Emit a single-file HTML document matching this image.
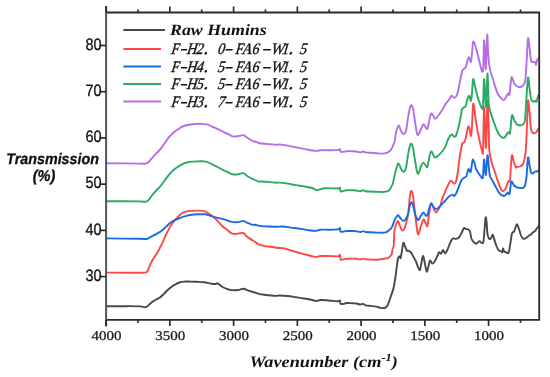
<!DOCTYPE html>
<html><head><meta charset="utf-8"><title>FTIR</title>
<style>
html,body{margin:0;padding:0;background:#fff;}
body{width:550px;height:377px;overflow:hidden;}
svg{display:block;text-rendering:geometricPrecision;}
.xl{font-family:"Liberation Serif",serif;font-size:14px;fill:#1a1a1a;stroke:#1a1a1a;stroke-width:0.3;text-anchor:middle;}
.yl{font-family:"Liberation Sans",sans-serif;font-size:16.5px;fill:#111;stroke:#111;stroke-width:0.3;text-anchor:end;}
.lgb{font-family:"Liberation Serif",serif;font-size:15.8px;font-weight:bold;font-style:italic;fill:#111;}
.lg{font-family:"Liberation Serif","Noto Serif CJK SC",serif;font-size:16px;fill:#111;stroke:#111;stroke-width:0.35;text-anchor:middle;white-space:pre;}
.dash{font-size:18px;stroke-width:0;}
.dot{font-size:19px;stroke-width:0.6;}
.xt{font-family:"Liberation Serif",serif;font-size:16px;font-weight:bold;font-style:italic;fill:#111;}
.yt{font-family:"Liberation Sans",sans-serif;font-size:15.3px;font-weight:bold;font-style:italic;fill:#111;stroke:#111;stroke-width:0.3;text-anchor:middle;}
</style></head>
<body>
<svg width="550" height="377" viewBox="0 0 550 377">
<rect width="550" height="377" fill="#fff"/>
<g>
<path fill="none" stroke="#484848" stroke-width="1.9" stroke-linejoin="round" stroke-linecap="round" d="M106,306.2C108.33,306.22 116.00,306.32 120,306.3C124.00,306.28 126.67,306.08 130,306.1C133.33,306.12 137.53,306.22 140,306.4C142.47,306.58 143.60,307.20 144.8,307.2C146.00,307.20 146.32,306.98 147.2,306.4C148.08,305.82 149.12,304.55 150.1,303.7C151.08,302.85 152.00,302.05 153.1,301.3C154.20,300.55 155.50,299.88 156.7,299.2C157.90,298.52 159.10,298.08 160.3,297.2C161.50,296.32 162.72,295.05 163.9,293.9C165.08,292.75 166.22,291.40 167.4,290.3C168.58,289.20 169.80,288.20 171,287.3C172.20,286.40 173.20,285.70 174.6,284.9C176.00,284.10 177.80,283.05 179.4,282.5C181.00,281.95 182.42,281.75 184.2,281.6C185.98,281.45 188.12,281.57 190.1,281.6C192.08,281.63 193.80,281.68 196.1,281.8C198.40,281.92 201.33,281.98 203.9,282.3C206.47,282.62 209.58,283.42 211.5,283.7C213.42,283.98 214.37,284.05 215.4,284C216.43,283.95 216.65,282.98 217.7,283.4C218.75,283.82 220.18,285.60 221.7,286.5C223.22,287.40 225.10,288.20 226.8,288.8C228.50,289.40 229.98,289.90 231.9,290.1C233.82,290.30 236.38,290.22 238.3,290C240.22,289.78 241.70,288.70 243.4,288.8C245.10,288.90 246.57,289.97 248.5,290.6C250.43,291.23 253.10,292.00 255,292.6C256.90,293.20 258.82,293.90 259.9,294.2C260.98,294.50 260.13,294.23 261.5,294.4C262.87,294.57 265.63,294.95 268.1,295.2C270.57,295.45 274.40,295.85 276.3,295.9C278.20,295.95 277.60,295.48 279.5,295.5C281.40,295.52 284.97,295.72 287.7,296C290.43,296.28 293.17,296.78 295.9,297.2C298.63,297.62 301.37,298.03 304.1,298.5C306.83,298.97 310.25,299.58 312.3,300C314.35,300.42 315.03,301.00 316.4,301C317.77,301.00 318.47,300.08 320.5,300C322.53,299.92 325.73,300.28 328.6,300.5C331.47,300.72 335.92,301.22 337.7,301.3C339.30,301.38 338.92,301.10 339.3,301C339.68,300.90 339.77,300.22 340,300.7C340.23,301.18 340.15,303.37 340.7,303.9C341.25,304.43 342.28,304.05 343.3,303.9C344.32,303.75 345.23,303.10 346.8,303C348.37,302.90 351.12,303.22 352.7,303.3C354.28,303.38 355.02,303.30 356.3,303.5C357.58,303.70 359.27,304.43 360.4,304.5C361.53,304.57 362.22,303.75 363.1,303.9C363.98,304.05 364.47,305.07 365.7,305.4C366.93,305.73 368.72,305.70 370.5,305.9C372.28,306.10 374.82,306.28 376.4,306.6C377.98,306.92 378.60,307.57 380,307.8C381.40,308.03 383.53,308.43 384.8,308C386.07,307.57 386.82,306.50 387.6,305.2C388.38,303.90 388.85,302.00 389.5,300.2C390.15,298.40 390.85,296.32 391.5,294.4C392.15,292.48 392.77,291.40 393.4,288.7C394.03,286.00 394.73,281.87 395.3,278.2C395.87,274.53 396.33,270.05 396.8,266.7C397.27,263.35 397.62,259.85 398.1,258.1C398.58,256.35 399.28,256.20 399.7,256.2C400.12,256.20 400.22,259.05 400.6,258.1C400.98,257.15 401.55,253.03 402,250.5C402.45,247.97 402.83,243.70 403.3,242.9C403.77,242.10 404.23,244.43 404.8,245.7C405.37,246.97 406.37,249.72 406.7,250.5C406.80,251.28 406.70,250.33 406.8,250.4C407.13,250.47 408.00,250.58 408.7,250.9C409.40,251.22 410.28,251.45 411,252.3C411.72,253.15 412.17,254.47 413,256C413.83,257.53 415.17,259.65 416,261.5C416.83,263.35 417.33,265.70 418,267.1C418.67,268.50 419.42,270.67 420,269.9C420.58,269.13 421.00,264.82 421.5,262.5C422.00,260.18 422.50,256.17 423,256C423.50,255.83 424.00,259.33 424.5,261.5C425.00,263.67 425.58,267.30 426,269C426.42,270.70 426.58,272.17 427,271.7C427.42,271.23 428.00,268.05 428.5,266.2C429.00,264.35 429.42,261.07 430,260.6C430.58,260.13 431.33,263.08 432,263.4C432.67,263.72 433.17,263.58 434,262.5C434.83,261.42 436.17,258.60 437,256.9C437.83,255.20 438.33,252.83 439,252.3C439.67,251.77 440.33,254.08 441,253.7C441.67,253.32 442.33,250.08 443,250C443.67,249.92 444.33,253.07 445,253.2C445.67,253.33 446.33,252.03 447,250.8C447.67,249.57 448.33,247.42 449,245.8C449.67,244.18 450.33,242.35 451,241.1C451.67,239.85 452.17,238.67 453,238.3C453.83,237.93 455.00,239.05 456,238.9C457.00,238.75 458.00,238.55 459,237.4C460.00,236.25 461.17,233.57 462,232C462.83,230.43 463.33,228.50 464,228C464.67,227.50 465.33,228.78 466,229C466.67,229.22 467.33,228.88 468,229.3C468.67,229.72 469.45,230.02 470,231.5C470.55,232.98 470.75,236.53 471.3,238.2C471.85,239.87 472.52,240.58 473.3,241.5C474.08,242.42 475.00,243.77 476,243.7C477.00,243.63 478.42,241.25 479.3,241.1C480.18,240.95 480.63,242.63 481.3,242.8C481.97,242.97 482.75,244.42 483.3,242.1C483.85,239.78 484.22,232.98 484.6,228.9C484.98,224.82 485.27,218.72 485.6,217.6C485.93,216.48 486.28,219.43 486.6,222.2C486.92,224.97 487.07,231.43 487.5,234.2C487.93,236.97 488.58,238.18 489.2,238.8C489.82,239.42 490.60,238.57 491.2,237.9C491.80,237.23 492.25,234.43 492.8,234.8C493.35,235.17 493.88,238.22 494.5,240.1C495.12,241.98 495.83,244.43 496.5,246.1C497.17,247.77 497.75,249.25 498.5,250.1C499.25,250.95 500.33,250.85 501,251.2C501.67,251.55 502.17,252.67 502.5,252.2C502.83,251.73 502.75,248.57 503,248.4C503.25,248.23 503.50,250.57 504,251.2C504.50,251.83 505.25,251.95 506,252.2C506.75,252.45 507.83,253.78 508.5,252.7C509.17,251.62 509.42,248.88 510,245.7C510.58,242.52 511.33,235.93 512,233.6C512.67,231.27 513.50,232.47 514,231.7C514.50,230.93 514.50,230.23 515,229C515.50,227.77 516.33,224.30 517,224.3C517.67,224.30 518.33,227.13 519,229C519.67,230.87 520.33,233.90 521,235.5C521.67,237.10 522.33,238.08 523,238.6C523.67,239.12 524.33,238.82 525,238.6C525.67,238.38 526.33,237.82 527,237.3C527.67,236.78 528.33,235.97 529,235.5C529.67,235.03 530.33,235.03 531,234.5C531.67,233.97 532.33,232.85 533,232.3C533.67,231.75 534.33,231.92 535,231.2C535.67,230.48 536.33,228.87 537,228C537.67,227.13 538.67,226.33 539,226"/>
<path fill="none" stroke="#ff4646" stroke-width="1.9" stroke-linejoin="round" stroke-linecap="round" d="M106,272.6C111.67,272.63 133.25,272.87 140,272.8C146.50,272.73 145.10,272.82 146.5,272.2C147.90,271.58 147.63,270.70 148.4,269.1C149.17,267.50 150.18,264.47 151.1,262.6C152.02,260.73 152.82,259.62 153.9,257.9C154.98,256.18 156.52,254.15 157.6,252.3C158.68,250.45 159.47,248.65 160.4,246.8C161.33,244.95 162.27,243.22 163.2,241.2C164.13,239.18 165.07,236.72 166,234.7C166.93,232.68 167.87,230.80 168.8,229.1C169.73,227.40 170.52,226.03 171.6,224.5C172.68,222.97 174.07,221.35 175.3,219.9C176.53,218.45 177.77,216.98 179,215.8C180.23,214.62 181.47,213.52 182.7,212.8C183.93,212.08 185.18,211.82 186.4,211.5C187.62,211.18 188.18,211.05 190,210.9C191.82,210.75 195.12,210.60 197.3,210.6C199.48,210.60 201.65,210.67 203.1,210.9C204.55,211.13 205.02,211.50 206,212C206.98,212.50 207.78,213.10 209,213.9C210.22,214.70 211.85,215.60 213.3,216.8C214.75,218.00 216.23,219.57 217.7,221.1C219.17,222.63 220.63,224.65 222.1,226C223.57,227.35 225.17,228.13 226.5,229.2C227.83,230.27 229.02,231.63 230.1,232.4C231.18,233.17 231.90,233.57 233,233.8C234.10,234.03 235.48,233.88 236.7,233.8C237.92,233.72 239.22,233.47 240.3,233.3C241.38,233.13 242.23,232.40 243.2,232.8C244.17,233.20 245.00,234.73 246.1,235.7C247.20,236.67 248.32,237.57 249.8,238.6C251.28,239.63 253.55,240.97 255,241.9C256.45,242.83 257.68,243.72 258.5,244.2C259.32,244.68 258.85,244.48 259.9,244.8C260.95,245.12 262.88,245.77 264.8,246.1C266.72,246.43 269.48,246.52 271.4,246.8C273.32,247.08 274.40,247.58 276.3,247.8C278.20,248.02 280.90,247.83 282.8,248.1C284.70,248.37 285.78,248.85 287.7,249.4C289.62,249.95 292.12,250.75 294.3,251.4C296.48,252.05 298.62,252.70 300.8,253.3C302.98,253.90 305.22,254.45 307.4,255C309.58,255.55 312.27,256.30 313.9,256.6C315.53,256.90 316.10,256.90 317.2,256.8C318.30,256.70 318.87,256.13 320.5,256C322.13,255.87 324.82,255.95 327,256C329.18,256.05 331.68,256.25 333.6,256.3C335.52,256.35 337.55,256.42 338.5,256.3C339.30,256.18 339.05,255.82 339.3,255.6C339.55,255.38 339.77,254.33 340,255C340.23,255.67 340.15,258.87 340.7,259.6C341.25,260.33 342.28,259.53 343.3,259.4C344.32,259.27 345.23,258.93 346.8,258.8C348.37,258.67 351.12,258.60 352.7,258.6C354.28,258.60 355.02,258.67 356.3,258.8C357.58,258.93 359.27,259.43 360.4,259.4C361.53,259.37 362.22,258.60 363.1,258.6C363.98,258.60 364.47,259.23 365.7,259.4C366.93,259.57 368.72,259.53 370.5,259.6C372.28,259.67 374.82,259.83 376.4,259.8C377.98,259.77 378.73,259.57 380,259.4C381.27,259.23 382.73,259.02 384,258.8C385.27,258.58 386.68,258.43 387.6,258.1C388.52,257.77 388.85,257.43 389.5,256.8C390.15,256.17 390.97,255.60 391.5,254.3C392.03,253.00 392.32,250.55 392.7,249C393.08,247.45 393.53,247.82 393.8,245C394.07,242.18 393.95,235.45 394.3,232.1C394.65,228.75 395.32,226.77 395.9,224.9C396.48,223.03 397.13,220.77 397.8,220.9C398.47,221.03 399.15,224.10 399.9,225.7C400.65,227.30 401.50,230.10 402.3,230.5C403.10,230.90 404.03,229.43 404.7,228.1C405.37,226.77 405.70,225.02 406.3,222.5C406.90,219.98 407.68,217.58 408.3,213C408.92,208.42 409.47,198.68 410,195C410.53,191.32 411.00,190.72 411.5,190.9C412.00,191.08 412.42,192.45 413,196.1C413.58,199.75 414.33,207.23 415,212.8C415.67,218.37 416.42,225.93 417,229.5C417.58,233.07 417.83,234.82 418.5,234.2C419.17,233.58 420.17,228.28 421,225.8C421.83,223.32 422.67,219.60 423.5,219.3C424.33,219.00 425.33,222.92 426,224C426.67,225.08 427.00,227.35 427.5,225.8C428.00,224.25 428.42,218.40 429,214.7C429.58,211.00 430.33,205.00 431,203.6C431.67,202.20 432.17,204.82 433,206.3C433.83,207.78 434.83,212.50 436,212.5C437.17,212.50 438.97,208.55 440,206.3C441.03,204.05 441.35,201.43 442.2,199C443.05,196.57 444.13,194.02 445.1,191.7C446.07,189.38 447.03,186.93 448,185.1C448.97,183.27 449.92,180.93 450.9,180.7C451.88,180.47 453.05,183.57 453.9,183.7C454.75,183.83 455.40,183.08 456,181.5C456.60,179.92 457.00,177.37 457.5,174.2C458.00,171.03 458.52,166.15 459,162.5C459.48,158.85 459.92,155.10 460.4,152.3C460.88,149.50 461.53,147.23 461.9,145.7C462.27,144.17 462.12,143.82 462.6,143.1C463.08,142.38 464.20,142.62 464.8,141.4C465.40,140.18 465.60,138.30 466.2,135.8C466.80,133.30 467.78,127.25 468.4,126.4C469.02,125.55 469.47,129.13 469.9,130.7C470.33,132.27 470.63,136.88 471,135.8C471.37,134.72 471.75,129.42 472.1,124.2C472.45,118.98 472.73,107.18 473.1,104.5C473.47,101.82 473.87,105.55 474.3,108.1C474.73,110.65 475.10,115.67 475.7,119.8C476.30,123.93 477.17,129.02 477.9,132.9C478.63,136.78 479.45,140.25 480.1,143.1C480.75,145.95 481.32,148.73 481.8,150C482.28,151.27 482.63,157.70 483,150.7C483.37,143.70 483.67,111.72 484,108C484.33,104.28 484.67,121.90 485,128.4C485.33,134.90 485.58,151.65 486,147C486.42,142.35 487.00,101.43 487.5,100.5C488.00,99.57 488.72,133.22 489,141.4C489.20,149.58 489.00,146.12 489.2,149.6C489.63,153.08 490.67,158.60 491.6,162.3C492.53,166.00 493.75,168.62 494.8,171.8C495.85,174.98 496.85,178.47 497.9,181.4C498.95,184.33 500.17,187.80 501.1,189.4C502.03,191.00 502.70,191.27 503.5,191C504.30,190.73 505.10,189.40 505.9,187.8C506.70,186.20 507.63,182.73 508.3,181.4C508.97,180.07 509.32,184.05 509.9,179.8C510.48,175.55 511.13,158.82 511.8,155.9C512.47,152.98 513.22,160.37 513.9,162.3C514.58,164.23 515.38,166.72 515.9,167.5C516.42,168.28 516.32,167.17 517,167C517.68,166.83 519.00,167.00 520,166.5C521.00,166.00 522.17,165.63 523,164C523.83,162.37 524.50,159.47 525,156.7C525.50,153.93 525.67,152.73 526,147.4C526.33,142.07 526.67,132.50 527,124.7C527.33,116.90 527.58,102.77 528,100.6C528.42,98.43 529.00,106.92 529.5,111.7C530.00,116.48 530.42,125.75 531,129.3C531.58,132.85 532.33,132.38 533,133C533.67,133.62 534.42,133.15 535,133C535.58,132.85 536.00,132.72 536.5,132.1C537.00,131.48 537.58,129.98 538,129.3C538.42,128.62 538.83,128.22 539,128"/>
<path fill="none" stroke="#1a6ae2" stroke-width="1.9" stroke-linejoin="round" stroke-linecap="round" d="M106,238.4C111.67,238.47 133.10,238.73 140,238.8C146.90,238.87 145.55,239.17 147.4,238.8C149.25,238.43 149.55,237.43 151.1,236.6C152.65,235.77 154.98,234.73 156.7,233.8C158.42,232.87 159.85,232.15 161.4,231C162.95,229.85 164.47,228.30 166,226.9C167.53,225.50 169.05,223.77 170.6,222.6C172.15,221.43 173.60,220.73 175.3,219.9C177.00,219.07 178.95,218.28 180.8,217.6C182.65,216.92 184.87,216.23 186.4,215.8C187.93,215.37 187.95,215.25 190,215C192.05,214.75 196.27,214.42 198.7,214.3C201.13,214.18 202.88,214.13 204.6,214.3C206.32,214.47 207.55,214.88 209,215.3C210.45,215.72 211.60,216.32 213.3,216.8C215.00,217.28 217.25,217.72 219.2,218.2C221.15,218.68 223.07,219.13 225,219.7C226.93,220.27 229.10,221.17 230.8,221.6C232.50,222.03 233.73,222.25 235.2,222.3C236.67,222.35 238.27,222.13 239.6,221.9C240.93,221.67 241.98,220.78 243.2,220.9C244.42,221.02 245.32,221.95 246.9,222.6C248.48,223.25 251.35,224.43 252.7,224.8C254.05,225.17 253.90,224.62 255,224.8C256.10,224.98 258.22,225.68 259.3,225.9C260.38,226.12 260.03,226.00 261.5,226.1C262.97,226.20 265.63,226.38 268.1,226.5C270.57,226.62 273.85,226.80 276.3,226.8C278.75,226.80 280.35,226.37 282.8,226.5C285.25,226.63 288.00,227.20 291,227.6C294.00,228.00 297.80,228.47 300.8,228.9C303.80,229.33 306.53,229.87 309,230.2C311.47,230.53 313.68,230.98 315.6,230.9C317.52,230.82 318.33,229.90 320.5,229.7C322.67,229.50 325.73,229.75 328.6,229.7C331.47,229.65 335.92,229.58 337.7,229.4C339.30,229.22 338.92,228.82 339.3,228.6C339.68,228.38 339.77,227.58 340,228.1C340.23,228.62 340.15,231.12 340.7,231.7C341.25,232.28 342.28,231.72 343.3,231.6C344.32,231.48 345.23,231.10 346.8,231C348.37,230.90 351.12,230.97 352.7,231C354.28,231.03 355.02,231.03 356.3,231.2C357.58,231.37 359.27,232.02 360.4,232C361.53,231.98 362.22,231.10 363.1,231.1C363.98,231.10 364.47,231.80 365.7,232C366.93,232.20 368.72,232.20 370.5,232.3C372.28,232.40 374.43,232.52 376.4,232.6C378.37,232.68 380.73,232.83 382.3,232.8C383.87,232.77 384.72,232.78 385.8,232.4C386.88,232.02 387.78,231.35 388.8,230.5C389.82,229.65 390.98,228.90 391.9,227.3C392.82,225.70 393.50,222.70 394.3,220.9C395.10,219.10 396.03,217.42 396.7,216.5C397.37,215.58 397.63,215.07 398.3,215.4C398.97,215.73 399.90,217.58 400.7,218.5C401.50,219.42 402.30,220.77 403.1,220.9C403.90,221.03 404.70,220.35 405.5,219.3C406.30,218.25 407.15,216.98 407.9,214.6C408.65,212.22 409.40,207.05 410,205C410.60,202.95 411.00,202.23 411.5,202.3C412.00,202.37 412.42,203.48 413,205.4C413.58,207.32 414.33,211.57 415,213.8C415.67,216.03 416.42,217.78 417,218.8C417.58,219.82 417.83,220.43 418.5,219.9C419.17,219.37 420.17,216.78 421,215.6C421.83,214.42 422.67,212.80 423.5,212.8C424.33,212.80 425.33,215.28 426,215.6C426.67,215.92 427.00,215.78 427.5,214.7C428.00,213.62 428.42,210.95 429,209.1C429.58,207.25 430.33,204.07 431,203.6C431.67,203.13 432.17,205.38 433,206.3C433.83,207.22 434.83,209.10 436,209.1C437.17,209.10 438.50,207.65 440,206.3C441.50,204.95 443.53,202.58 445,201C446.47,199.42 447.57,197.87 448.8,196.8C450.03,195.73 451.43,194.77 452.4,194.6C453.37,194.43 453.75,196.53 454.6,195.8C455.45,195.07 456.40,192.72 457.5,190.2C458.60,187.68 460.10,182.77 461.2,180.7C462.30,178.63 463.25,178.52 464.1,177.8C464.95,177.08 465.58,177.85 466.3,176.4C467.02,174.95 467.68,169.83 468.4,169.1C469.12,168.37 469.97,173.18 470.6,172C471.23,170.82 471.80,164.08 472.2,162C472.60,159.92 472.62,159.30 473,159.5C473.38,159.70 474.00,161.65 474.5,163.2C475.00,164.75 475.42,167.25 476,168.8C476.58,170.35 477.33,171.42 478,172.5C478.67,173.58 479.33,174.38 480,175.3C480.67,176.22 481.50,177.85 482,178C482.50,178.15 482.67,179.28 483,176.2C483.33,173.12 483.67,160.58 484,159.5C484.33,158.42 484.67,167.23 485,169.7C485.33,172.17 485.58,176.72 486,174.3C486.42,171.88 487.00,156.12 487.5,155.2C488.00,154.28 488.58,165.30 489,168.8C489.42,172.30 489.50,174.35 490,176.2C490.50,178.05 491.17,178.35 492,179.9C492.83,181.45 494.00,183.65 495,185.5C496.00,187.35 497.17,189.62 498,191C498.83,192.38 499.33,193.08 500,193.8C500.67,194.52 501.33,194.93 502,195.3C502.67,195.67 503.33,196.10 504,196C504.67,195.90 505.33,195.28 506,194.7C506.67,194.12 507.42,192.65 508,192.5C508.58,192.35 509.00,195.43 509.5,193.8C510.00,192.17 510.58,184.72 511,182.7C511.42,180.68 511.50,181.23 512,181.7C512.50,182.17 513.17,184.57 514,185.5C514.83,186.43 516.00,186.90 517,187.3C518.00,187.70 519.00,187.80 520,187.9C521.00,188.00 522.17,188.30 523,187.9C523.83,187.50 524.42,187.30 525,185.5C525.58,183.70 526.00,181.75 526.5,177.1C527.00,172.45 527.50,159.62 528,157.6C528.50,155.58 529.00,162.52 529.5,165C530.00,167.48 530.42,171.10 531,172.5C531.58,173.90 532.33,173.57 533,173.4C533.67,173.23 534.33,171.82 535,171.5C535.67,171.18 536.33,171.75 537,171.5C537.67,171.25 538.67,170.25 539,170"/>
<path fill="none" stroke="#2aaa62" stroke-width="1.9" stroke-linejoin="round" stroke-linecap="round" d="M106,201.2C111.67,201.23 133.45,201.32 140,201.4C145.30,201.48 143.87,201.92 145.3,201.7C146.73,201.48 147.50,201.13 148.6,200.1C149.70,199.07 150.68,197.05 151.9,195.5C153.12,193.95 154.57,192.25 155.9,190.8C157.23,189.35 158.57,188.35 159.9,186.8C161.23,185.25 162.57,183.27 163.9,181.5C165.23,179.73 166.58,177.85 167.9,176.2C169.22,174.55 170.48,172.92 171.8,171.6C173.12,170.28 174.47,169.30 175.8,168.3C177.13,167.30 178.25,166.48 179.8,165.6C181.35,164.72 183.12,163.67 185.1,163C187.08,162.33 189.22,161.88 191.7,161.6C194.18,161.32 198.12,161.35 200,161.3C201.88,161.25 201.85,161.20 203,161.3C204.15,161.40 205.37,161.40 206.9,161.9C208.43,162.40 210.43,163.45 212.2,164.3C213.97,165.15 215.72,166.07 217.5,167C219.28,167.93 221.12,169.02 222.9,169.9C224.68,170.78 226.43,171.53 228.2,172.3C229.97,173.07 231.73,174.20 233.5,174.5C235.27,174.80 237.15,174.32 238.8,174.1C240.45,173.88 241.87,172.80 243.4,173.2C244.93,173.60 246.33,175.47 248,176.5C249.67,177.53 252.23,178.85 253.4,179.4C254.57,179.95 254.12,179.43 255,179.8C255.88,180.17 257.62,181.32 258.7,181.6C259.78,181.88 259.93,181.45 261.5,181.5C263.07,181.55 265.63,181.68 268.1,181.9C270.57,182.12 274.40,182.68 276.3,182.8C278.20,182.92 277.60,182.47 279.5,182.6C281.40,182.73 284.97,183.18 287.7,183.6C290.43,184.02 293.17,184.63 295.9,185.1C298.63,185.57 301.37,185.92 304.1,186.4C306.83,186.88 310.25,187.40 312.3,188C314.35,188.60 315.03,189.78 316.4,190C317.77,190.22 319.13,189.58 320.5,189.3C321.87,189.02 321.73,188.43 324.6,188.3C327.47,188.17 335.25,188.53 337.7,188.5C339.30,188.47 338.92,188.23 339.3,188.1C339.68,187.97 339.77,187.17 340,187.7C340.23,188.23 340.15,190.75 340.7,191.3C341.25,191.85 342.28,191.18 343.3,191C344.32,190.82 345.23,190.33 346.8,190.2C348.37,190.07 351.12,190.15 352.7,190.2C354.28,190.25 355.02,190.33 356.3,190.5C357.58,190.67 359.27,191.23 360.4,191.2C361.53,191.17 362.22,190.30 363.1,190.3C363.98,190.30 364.47,191.00 365.7,191.2C366.93,191.40 368.72,191.40 370.5,191.5C372.28,191.60 374.43,191.72 376.4,191.8C378.37,191.88 380.73,192.03 382.3,192C383.87,191.97 384.72,191.85 385.8,191.6C386.88,191.35 387.93,191.18 388.8,190.5C389.67,189.82 390.30,188.80 391,187.5C391.70,186.20 392.17,185.67 393,182.7C393.83,179.73 395.08,172.95 396,169.7C396.92,166.45 397.67,163.35 398.5,163.2C399.33,163.05 400.17,167.35 401,168.8C401.83,170.25 402.67,172.07 403.5,171.9C404.33,171.73 405.25,170.65 406,167.8C406.75,164.95 407.33,158.50 408,154.8C408.67,151.10 409.42,147.45 410,145.6C410.58,143.75 411.00,143.40 411.5,143.7C412.00,144.00 412.42,144.62 413,147.4C413.58,150.18 414.33,156.38 415,160.4C415.67,164.42 416.42,169.33 417,171.5C417.58,173.67 417.83,174.32 418.5,173.4C419.17,172.48 420.17,167.80 421,166C421.83,164.20 422.67,162.60 423.5,162.6C424.33,162.60 425.33,165.28 426,166C426.67,166.72 427.00,168.13 427.5,166.9C428.00,165.67 428.42,161.17 429,158.6C429.58,156.03 430.33,152.28 431,151.5C431.67,150.72 432.33,152.88 433,153.9C433.67,154.92 433.83,157.60 435,157.6C436.17,157.60 438.33,155.60 440,153.9C441.67,152.20 443.67,149.80 445,147.4C446.33,145.00 446.90,141.67 448,139.5C449.10,137.33 450.63,134.88 451.6,134.4C452.57,133.92 453.07,136.37 453.8,136.6C454.53,136.83 455.27,137.13 456,135.8C456.73,134.47 457.47,131.52 458.2,128.6C458.93,125.68 459.78,121.47 460.4,118.3C461.02,115.13 461.30,111.42 461.9,109.6C462.50,107.78 463.35,108.02 464,107.4C464.65,106.78 465.25,107.23 465.8,105.9C466.35,104.57 466.73,101.10 467.3,99.4C467.87,97.70 468.58,95.47 469.2,95.7C469.82,95.93 470.50,101.73 471,100.8C471.50,99.87 471.85,93.73 472.2,90.1C472.55,86.47 472.63,79.62 473.1,79C473.57,78.38 474.22,83.30 475,86.4C475.78,89.50 476.97,94.67 477.8,97.6C478.63,100.53 479.30,102.23 480,104C480.70,105.77 481.50,107.80 482,108.2C482.50,108.60 482.67,111.18 483,106.4C483.33,101.62 483.67,81.67 484,79.5C484.33,77.33 484.67,88.92 485,93.4C485.33,97.88 485.58,109.73 486,106.4C486.42,103.07 487.05,73.97 487.5,73.4C487.95,72.83 488.18,96.53 488.7,103C489.22,109.47 489.95,109.55 490.6,112.2C491.25,114.85 491.93,116.90 492.6,118.9C493.27,120.90 493.93,122.43 494.6,124.2C495.27,125.97 495.82,127.73 496.6,129.5C497.38,131.27 498.42,133.48 499.3,134.8C500.18,136.12 501.02,136.97 501.9,137.4C502.78,137.83 503.72,138.05 504.6,137.4C505.48,136.75 506.43,134.38 507.2,133.5C507.97,132.62 508.72,132.22 509.2,132.1C509.68,131.98 509.65,135.55 510.1,132.8C510.55,130.05 511.27,117.82 511.9,115.6C512.53,113.38 513.22,118.28 513.9,119.5C514.58,120.72 515.48,122.03 516,122.9C516.52,123.77 516.33,124.32 517,124.7C517.67,125.08 519.00,125.27 520,125.2C521.00,125.13 522.17,125.17 523,124.3C523.83,123.43 524.42,124.53 525,120C525.58,115.47 526.00,104.17 526.5,97.1C527.00,90.03 527.50,79.15 528,77.6C528.50,76.05 529.00,84.23 529.5,87.8C530.00,91.37 530.42,96.68 531,99C531.58,101.32 532.33,101.40 533,101.7C533.67,102.00 534.42,100.80 535,100.8C535.58,100.80 536.00,102.47 536.5,101.7C537.00,100.93 537.58,97.32 538,96.2C538.42,95.08 538.83,95.20 539,95"/>
<path fill="none" stroke="#b56ee6" stroke-width="1.9" stroke-linejoin="round" stroke-linecap="round" d="M106,163.2C111.67,163.27 133.37,163.53 140,163.6C145.80,163.67 144.33,163.92 145.8,163.6C147.27,163.28 147.82,162.57 148.8,161.7C149.78,160.83 150.73,159.50 151.7,158.4C152.67,157.30 153.52,156.25 154.6,155.1C155.68,153.95 156.98,152.83 158.2,151.5C159.42,150.17 160.68,148.68 161.9,147.1C163.12,145.52 164.28,143.70 165.5,142C166.72,140.30 167.98,138.37 169.2,136.9C170.42,135.43 171.58,134.30 172.8,133.2C174.02,132.10 175.15,131.27 176.5,130.3C177.85,129.33 179.43,128.20 180.9,127.4C182.37,126.60 183.60,125.98 185.3,125.5C187.00,125.02 188.92,124.78 191.1,124.5C193.28,124.22 196.87,123.90 198.4,123.8C199.93,123.70 198.88,123.82 200.3,123.9C201.72,123.98 204.92,123.83 206.9,124.3C208.88,124.77 210.43,125.93 212.2,126.7C213.97,127.47 215.72,128.08 217.5,128.9C219.28,129.72 221.12,130.72 222.9,131.6C224.68,132.48 226.43,133.37 228.2,134.2C229.97,135.03 231.73,136.30 233.5,136.6C235.27,136.90 237.15,136.23 238.8,136C240.45,135.77 241.87,134.83 243.4,135.2C244.93,135.57 246.33,137.18 248,138.2C249.67,139.22 252.23,140.75 253.4,141.3C254.57,141.85 254.12,141.22 255,141.5C255.88,141.78 257.62,142.67 258.7,143C259.78,143.33 259.93,143.33 261.5,143.5C263.07,143.67 265.63,143.78 268.1,144C270.57,144.22 274.40,144.72 276.3,144.8C278.20,144.88 277.60,144.37 279.5,144.5C281.40,144.63 284.97,145.13 287.7,145.6C290.43,146.07 293.17,146.75 295.9,147.3C298.63,147.85 301.37,148.37 304.1,148.9C306.83,149.43 310.25,150.17 312.3,150.5C314.35,150.83 315.03,150.95 316.4,150.9C317.77,150.85 318.47,150.32 320.5,150.2C322.53,150.08 325.73,150.22 328.6,150.2C331.47,150.18 335.92,150.18 337.7,150.1C339.30,150.02 338.92,149.85 339.3,149.7C339.68,149.55 339.77,148.85 340,149.2C340.23,149.55 340.15,151.37 340.7,151.8C341.25,152.23 342.28,151.90 343.3,151.8C344.32,151.70 345.23,151.30 346.8,151.2C348.37,151.10 351.12,151.15 352.7,151.2C354.28,151.25 355.02,151.30 356.3,151.5C357.58,151.70 359.27,152.40 360.4,152.4C361.53,152.40 362.22,151.50 363.1,151.5C363.98,151.50 364.47,152.18 365.7,152.4C366.93,152.62 368.72,152.67 370.5,152.8C372.28,152.93 374.43,153.07 376.4,153.2C378.37,153.33 380.73,153.60 382.3,153.6C383.87,153.60 384.72,153.50 385.8,153.2C386.88,152.90 387.92,152.42 388.8,151.8C389.68,151.18 390.42,150.48 391.1,149.5C391.78,148.52 392.30,147.28 392.9,145.9C393.50,144.52 394.18,143.40 394.7,141.2C395.22,139.00 395.37,135.30 396,132.7C396.63,130.10 397.67,125.92 398.5,125.6C399.33,125.28 400.17,129.37 401,130.8C401.83,132.23 402.67,134.20 403.5,134.2C404.33,134.20 405.25,133.53 406,130.8C406.75,128.07 407.33,121.67 408,117.8C408.67,113.93 409.42,109.70 410,107.6C410.58,105.50 411.00,105.03 411.5,105.2C412.00,105.37 412.42,105.88 413,108.6C413.58,111.32 414.33,117.33 415,121.5C415.67,125.67 416.42,131.43 417,133.6C417.58,135.77 417.83,135.27 418.5,134.5C419.17,133.73 420.17,130.70 421,129C421.83,127.30 422.67,124.47 423.5,124.3C424.33,124.13 425.33,127.28 426,128C426.67,128.72 427.00,129.68 427.5,128.6C428.00,127.52 428.42,123.98 429,121.5C429.58,119.02 430.33,114.78 431,113.7C431.67,112.62 432.33,114.15 433,115C433.67,115.85 434.17,118.63 435,118.8C435.83,118.97 436.75,117.53 438,116C439.25,114.47 441.13,111.75 442.5,109.6C443.87,107.45 444.97,104.95 446.2,103.1C447.43,101.25 448.97,99.73 449.9,98.5C450.83,97.27 451.02,95.80 451.8,95.7C452.58,95.60 453.67,98.22 454.6,97.9C455.53,97.58 456.48,96.65 457.4,93.8C458.32,90.95 459.33,84.50 460.1,80.8C460.87,77.10 461.38,73.60 462,71.6C462.62,69.60 463.18,69.48 463.8,68.8C464.42,68.12 465.07,68.90 465.7,67.5C466.33,66.10 467.05,62.13 467.6,60.4C468.15,58.67 468.45,56.85 469,57.1C469.55,57.35 470.37,62.90 470.9,61.9C471.43,60.90 471.83,54.43 472.2,51.1C472.57,47.77 472.68,43.08 473.1,41.9C473.52,40.72 474.10,42.57 474.7,44C475.30,45.43 475.93,47.63 476.7,50.5C477.47,53.37 478.53,58.10 479.3,61.2C480.07,64.30 480.82,67.33 481.3,69.1C481.78,70.87 481.87,72.02 482.2,71.8C482.53,71.58 483.00,72.88 483.3,67.8C483.60,62.72 483.73,44.40 484,41.3C484.27,38.20 484.62,44.57 484.9,49.2C485.18,53.83 485.47,67.77 485.7,69.1C485.93,70.43 486.03,62.95 486.3,57.2C486.57,51.45 487.03,36.15 487.3,34.6C487.57,33.05 487.63,43.25 487.9,47.9C488.17,52.55 488.45,58.52 488.9,62.5C489.35,66.48 489.98,69.22 490.6,71.8C491.22,74.38 491.87,75.62 492.6,78C493.33,80.38 494.10,83.38 495,86.1C495.90,88.82 497.00,92.32 498,94.3C499.00,96.28 500.17,97.07 501,98C501.83,98.93 502.33,99.73 503,99.9C503.67,100.07 504.33,99.77 505,99C505.67,98.23 506.42,96.23 507,95.3C507.58,94.37 508.08,93.57 508.5,93.4C508.92,93.23 509.08,96.47 509.5,94.3C509.92,92.13 510.58,83.27 511,80.4C511.42,77.53 511.50,76.67 512,77.1C512.50,77.53 513.17,81.47 514,83C514.83,84.53 516.00,85.63 517,86.3C518.00,86.97 519.00,87.12 520,87C521.00,86.88 522.17,86.52 523,85.6C523.83,84.68 524.50,83.87 525,81.5C525.50,79.13 525.67,75.82 526,71.4C526.33,66.98 526.67,60.57 527,55C527.33,49.43 527.58,39.28 528,38C528.42,36.72 529.00,43.60 529.5,47.3C530.00,51.00 530.42,57.73 531,60.2C531.58,62.67 532.33,61.78 533,62.1C533.67,62.42 534.50,61.63 535,62.1C535.50,62.57 535.67,65.22 536,64.9C536.33,64.58 536.50,61.35 537,60.2C537.50,59.05 538.67,58.37 539,58"/>
</g>
<g stroke="#2b2b2b" stroke-width="1.7" fill="none">
<path d="M106.1,12.5 H539.2 V319.9 H106.1" stroke-linejoin="miter" stroke="#2a2a2a" stroke-width="1.8"/>
<line x1="106.1" y1="6.0" x2="106.1" y2="326.4" stroke="#555" stroke-width="2"/>
<line x1="106.10" y1="319.9" x2="106.10" y2="325.9"/>
<line x1="106.10" y1="12.5" x2="106.10" y2="6.5"/>
<line x1="137.97" y1="319.9" x2="137.97" y2="322.9"/>
<line x1="137.97" y1="12.5" x2="137.97" y2="9.5"/>
<line x1="169.85" y1="319.9" x2="169.85" y2="325.9"/>
<line x1="169.85" y1="12.5" x2="169.85" y2="6.5"/>
<line x1="201.72" y1="319.9" x2="201.72" y2="322.9"/>
<line x1="201.72" y1="12.5" x2="201.72" y2="9.5"/>
<line x1="233.60" y1="319.9" x2="233.60" y2="325.9"/>
<line x1="233.60" y1="12.5" x2="233.60" y2="6.5"/>
<line x1="265.48" y1="319.9" x2="265.48" y2="322.9"/>
<line x1="265.48" y1="12.5" x2="265.48" y2="9.5"/>
<line x1="297.35" y1="319.9" x2="297.35" y2="325.9"/>
<line x1="297.35" y1="12.5" x2="297.35" y2="6.5"/>
<line x1="329.23" y1="319.9" x2="329.23" y2="322.9"/>
<line x1="329.23" y1="12.5" x2="329.23" y2="9.5"/>
<line x1="361.10" y1="319.9" x2="361.10" y2="325.9"/>
<line x1="361.10" y1="12.5" x2="361.10" y2="6.5"/>
<line x1="392.98" y1="319.9" x2="392.98" y2="322.9"/>
<line x1="392.98" y1="12.5" x2="392.98" y2="9.5"/>
<line x1="424.85" y1="319.9" x2="424.85" y2="325.9"/>
<line x1="424.85" y1="12.5" x2="424.85" y2="6.5"/>
<line x1="456.73" y1="319.9" x2="456.73" y2="322.9"/>
<line x1="456.73" y1="12.5" x2="456.73" y2="9.5"/>
<line x1="488.60" y1="319.9" x2="488.60" y2="325.9"/>
<line x1="488.60" y1="12.5" x2="488.60" y2="6.5"/>
<line x1="520.48" y1="319.9" x2="520.48" y2="322.9"/>
<line x1="520.48" y1="12.5" x2="520.48" y2="9.5"/>
<line x1="99.6" y1="276.60" x2="106.1" y2="276.60"/>
<line x1="99.6" y1="230.38" x2="106.1" y2="230.38"/>
<line x1="99.6" y1="184.16" x2="106.1" y2="184.16"/>
<line x1="99.6" y1="137.94" x2="106.1" y2="137.94"/>
<line x1="99.6" y1="91.72" x2="106.1" y2="91.72"/>
<line x1="99.6" y1="45.50" x2="106.1" y2="45.50"/>
</g>
<g class="xl"><text transform="translate(106.40,340.4) scale(1.07,0.95)">4000</text><text transform="translate(170.15,340.4) scale(1.07,0.95)">3500</text><text transform="translate(233.90,340.4) scale(1.07,0.95)">3000</text><text transform="translate(297.65,340.4) scale(1.07,0.95)">2500</text><text transform="translate(361.40,340.4) scale(1.07,0.95)">2000</text><text transform="translate(425.15,340.4) scale(1.07,0.95)">1500</text><text transform="translate(488.90,340.4) scale(1.07,0.95)">1000</text></g>
<g class="yl"><text transform="translate(101.7,280.90) scale(0.88,1)">30</text><text transform="translate(101.7,234.68) scale(0.88,1)">40</text><text transform="translate(101.7,188.46) scale(0.88,1)">50</text><text transform="translate(101.7,142.24) scale(0.88,1)">60</text><text transform="translate(101.7,96.02) scale(0.88,1)">70</text><text transform="translate(101.7,49.80) scale(0.88,1)">80</text></g>
<line x1="123.3" y1="30" x2="165" y2="30" stroke="#484848" stroke-width="2"/>
<text transform="translate(170,35) scale(1.13,1)" class="lgb">Raw Humins</text>
<line x1="123.3" y1="48.9" x2="161" y2="48.9" stroke="#ff4646" stroke-width="2"/>
<text class="lg" transform="translate(171,53.60) skewX(-17) scale(0.88,1)" y="0"><tspan x="3.69">F</tspan><tspan x="13.35" class="dash" textLength="8.94" lengthAdjust="spacingAndGlyphs">-</tspan><tspan x="22.90">H</tspan><tspan x="31.76">2</tspan><tspan x="39.32" class="dot">.</tspan><tspan x="44.89"> </tspan><tspan x="55.97">0</tspan><tspan x="64.66" class="dash" textLength="10.30" lengthAdjust="spacingAndGlyphs">-</tspan><tspan x="76.76">F</tspan><tspan x="85.51">A</tspan><tspan x="95.34">6</tspan><tspan x="107.50" class="dash" textLength="11.21" lengthAdjust="spacingAndGlyphs">-</tspan><tspan x="120.40">W</tspan><tspan x="128.92">1</tspan><tspan x="135.85" class="dot">.</tspan><tspan x="140.34"> </tspan><tspan x="149.09">5</tspan></text>
<line x1="123.3" y1="66.5" x2="161" y2="66.5" stroke="#1a6ae2" stroke-width="2"/>
<text class="lg" transform="translate(171,71.80) skewX(-17) scale(0.88,1)" y="0"><tspan x="3.69">F</tspan><tspan x="13.35" class="dash" textLength="8.94" lengthAdjust="spacingAndGlyphs">-</tspan><tspan x="22.90">H</tspan><tspan x="31.76">4</tspan><tspan x="39.32" class="dot">.</tspan><tspan x="44.89"> </tspan><tspan x="55.97">5</tspan><tspan x="64.66" class="dash" textLength="10.30" lengthAdjust="spacingAndGlyphs">-</tspan><tspan x="76.76">F</tspan><tspan x="85.51">A</tspan><tspan x="95.34">6</tspan><tspan x="107.50" class="dash" textLength="11.21" lengthAdjust="spacingAndGlyphs">-</tspan><tspan x="120.40">W</tspan><tspan x="128.92">1</tspan><tspan x="135.85" class="dot">.</tspan><tspan x="140.34"> </tspan><tspan x="149.09">5</tspan></text>
<line x1="123.3" y1="83.9" x2="161" y2="83.9" stroke="#2aaa62" stroke-width="2"/>
<text class="lg" transform="translate(171,89.20) skewX(-17) scale(0.88,1)" y="0"><tspan x="3.69">F</tspan><tspan x="13.35" class="dash" textLength="8.94" lengthAdjust="spacingAndGlyphs">-</tspan><tspan x="22.90">H</tspan><tspan x="31.76">5</tspan><tspan x="39.32" class="dot">.</tspan><tspan x="44.89"> </tspan><tspan x="55.97">5</tspan><tspan x="64.66" class="dash" textLength="10.30" lengthAdjust="spacingAndGlyphs">-</tspan><tspan x="76.76">F</tspan><tspan x="85.51">A</tspan><tspan x="95.34">6</tspan><tspan x="107.50" class="dash" textLength="11.21" lengthAdjust="spacingAndGlyphs">-</tspan><tspan x="120.40">W</tspan><tspan x="128.92">1</tspan><tspan x="135.85" class="dot">.</tspan><tspan x="140.34"> </tspan><tspan x="149.09">5</tspan></text>
<line x1="123.3" y1="101.6" x2="161" y2="101.6" stroke="#b56ee6" stroke-width="2"/>
<text class="lg" transform="translate(171,106.90) skewX(-17) scale(0.88,1)" y="0"><tspan x="3.69">F</tspan><tspan x="13.35" class="dash" textLength="8.94" lengthAdjust="spacingAndGlyphs">-</tspan><tspan x="22.90">H</tspan><tspan x="31.76">3</tspan><tspan x="39.32" class="dot">.</tspan><tspan x="44.89"> </tspan><tspan x="55.97">7</tspan><tspan x="64.66" class="dash" textLength="10.30" lengthAdjust="spacingAndGlyphs">-</tspan><tspan x="76.76">F</tspan><tspan x="85.51">A</tspan><tspan x="95.34">6</tspan><tspan x="107.50" class="dash" textLength="11.21" lengthAdjust="spacingAndGlyphs">-</tspan><tspan x="120.40">W</tspan><tspan x="128.92">1</tspan><tspan x="135.85" class="dot">.</tspan><tspan x="140.34"> </tspan><tspan x="149.09">5</tspan></text>
<text transform="translate(249.5,366.8) scale(1.14,1)" class="xt">Wavenumber (cm<tspan dy="-6" font-size="11">-1</tspan><tspan dy="6">)</tspan></text>
<text transform="translate(52.6,163.6) scale(0.935,1)" class="yt">Transmission</text>
<text transform="translate(44,181.2) scale(0.95,1.03)" class="yt">(%)</text>
</svg>
</body></html>
